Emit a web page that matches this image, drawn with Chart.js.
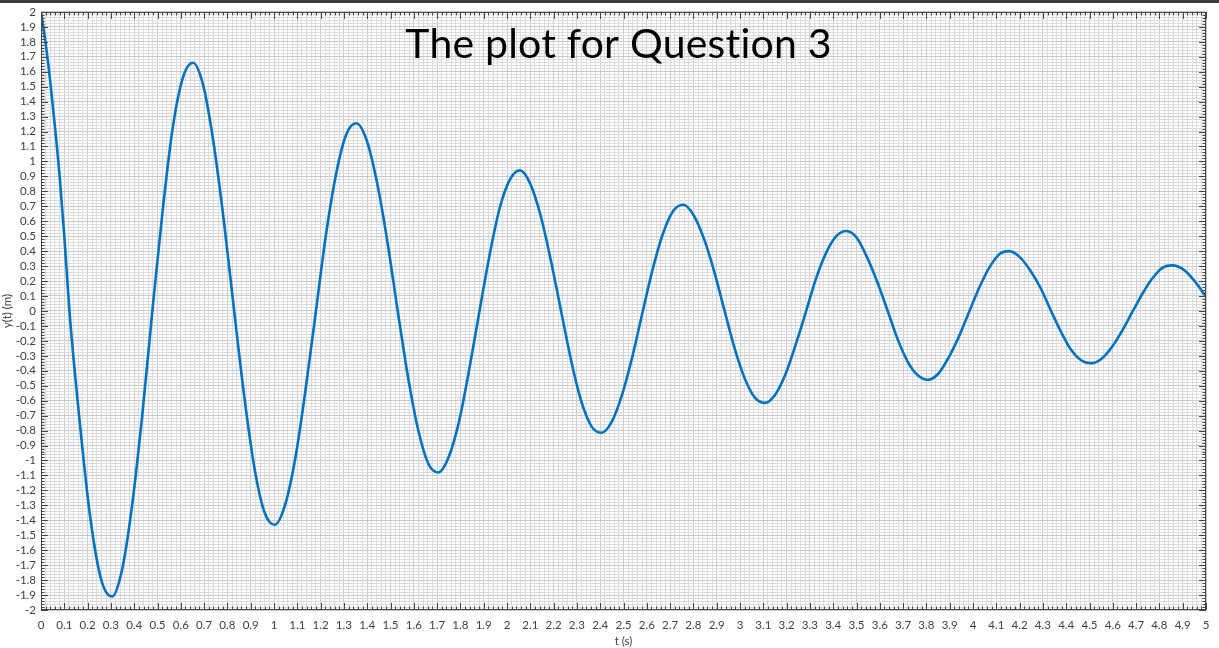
<!DOCTYPE html>
<html>
<head>
<meta charset="utf-8">
<script src="https://cdn.jsdelivr.net/npm/chart.js@4.4.1/dist/chart.umd.min.js"></script>
<style>
body{margin:0;background:#fff}
#plot{display:block}
</style>
</head>
<body>
<canvas id="plot" width="1219" height="648"></canvas>
<script>
// ---------------- DATA ----------------

const tVals = [0, 0.02, 0.04, 0.06, 0.08, 0.10, 0.122,
0.168, 0.213, 0.259, 0.305, 0.348, 0.391, 0.435, 0.478,
0.522, 0.565, 0.609, 0.652, 0.696, 0.740, 0.785, 0.829,
0.873, 0.916, 0.960, 1.003, 1.047, 1.092, 1.136, 1.180,
1.223, 1.267, 1.310, 1.353, 1.398, 1.442, 1.487, 1.531,
1.575, 1.618, 1.662, 1.705, 1.749, 1.794, 1.838, 1.882,
1.926, 1.969, 2.013, 2.056, 2.100, 2.144, 2.188, 2.232,
2.275, 2.318, 2.362, 2.405, 2.450, 2.494, 2.539, 2.583,
2.627, 2.670, 2.714, 2.757, 2.801, 2.846, 2.890, 2.934,
2.977, 3.020, 3.064, 3.107, 3.151, 3.196, 3.240, 3.284,
3.327, 3.370, 3.413, 3.456, 3.501, 3.545, 3.590, 3.634,
3.677, 3.720, 3.763, 3.806, 3.851, 3.896, 3.940, 3.985,
4.028, 4.070, 4.113, 4.156, 4.201, 4.246, 4.291, 4.335,
4.378, 4.421, 4.464, 4.507, 4.552, 4.597, 4.641, 4.686,
4.729, 4.771, 4.814, 4.856, 4.901, 4.946, 4.991, 5.0]

const yVals = [2.0, 1.79, 1.53, 1.23, 0.90, 0.50, 0,
-0.77, -1.40, -1.80, -1.91, -1.73, -1.30, -0.69, 0,
0.67, 1.22, 1.56, 1.66, 1.51, 1.13, 0.60, 0,
-0.58, -1.05, -1.35, -1.43, -1.30, -0.98, -0.52, 0,
0.51, 0.92, 1.18, 1.255, 1.14, 0.86, 0.46, 0,
-0.44, -0.79, -1.02, -1.08, -0.98, -0.74, -0.39, 0,
0.38, 0.69, 0.88, 0.94, 0.85, 0.64, 0.34, 0,
-0.33, -0.60, -0.77, -0.815, -0.74, -0.56, -0.30, 0,
0.29, 0.52, 0.67, 0.71, 0.64, 0.48, 0.26, 0,
-0.25, -0.45, -0.58, -0.615, -0.56, -0.42, -0.22, 0,
0.22, 0.39, 0.50, 0.535, 0.49, 0.36, 0.19, 0,
-0.19, -0.34, -0.43, -0.46, -0.42, -0.31, -0.17, 0,
0.16, 0.29, 0.38, 0.40, 0.36, 0.27, 0.15, 0,
-0.14, -0.26, -0.33, -0.35, -0.32, -0.24, -0.13, 0,
0.12, 0.22, 0.29, 0.305, 0.28, 0.21, 0.115, 0.093]

const titulo = "The plot for Question 3"
const xTitulo = "t (s)"
const yTitulo = "y(t) (m)"

// ---------------- HELPERS ----------------

const isMajor = v => Math.abs(v*10 - Math.round(v*10)) < 1e-6
const fmt = v => isMajor(v) ? String(Number(v.toFixed(1))) : ""

// ---------------- MOLDURA / TICKS / TITULO ----------------

const moldura = {
id:"moldura",
beforeDraw(chart){
const ctx = chart.ctx
ctx.save()
ctx.fillStyle = "#fff"
ctx.fillRect(0,0,chart.width,chart.height)
ctx.fillStyle = "#3c3c3c"
ctx.fillRect(0,0,chart.width,3)
ctx.restore()
},
afterDraw(chart){
const {ctx, chartArea:a, scales:{x,y}} = chart
ctx.save()
ctx.strokeStyle = "#444"
ctx.lineWidth = 1
ctx.beginPath()
x.ticks.forEach(t => {
const px = Math.round(x.getPixelForValue(t.value)) + 0.5
const len = isMajor(t.value) ? 7 : 3.5
ctx.moveTo(px, a.bottom); ctx.lineTo(px, a.bottom - len)
ctx.moveTo(px, a.top); ctx.lineTo(px, a.top + len)
})
y.ticks.forEach(t => {
const py = Math.round(y.getPixelForValue(t.value)) + 0.5
const len = isMajor(t.value) ? 7 : 3.5
ctx.moveTo(a.left, py); ctx.lineTo(a.left + len, py)
ctx.moveTo(a.right, py); ctx.lineTo(a.right - len, py)
})
ctx.stroke()
ctx.strokeRect(Math.round(a.left)+0.5, Math.round(a.top)+0.5,
Math.round(a.right-a.left)-1, Math.round(a.bottom-a.top)-1)

ctx.fillStyle = "#000"
ctx.font = "41px Lato"
ctx.letterSpacing = "0.2px"
ctx.textAlign = "center"
ctx.textBaseline = "alphabetic"
ctx.fillText(titulo, (a.left + a.right)/2 - 5, 58)
ctx.restore()
}
}

// ---------------- GRAFICO ----------------

new Chart(document.getElementById("plot"),{
type:"line",
data:{
datasets:[{
data:tVals.map((t,i)=>({x:t, y:yVals[i]})),
borderColor:"#0072BD",
borderWidth:2.6,
pointRadius:0,
cubicInterpolationMode:"monotone",
fill:false
}]
},
options:{
responsive:false,
animation:false,
devicePixelRatio:1,
layout:{padding:{top:8, right:13, left:0, bottom:0}},
plugins:{legend:{display:false}, tooltip:{enabled:false}},
scales:{
x:{
type:"linear", min:0, max:5,
border:{display:false},
grid:{
drawTicks:false,
color:c => isMajor(c.tick.value) ? "#cbcbcb" : "#dcdcdc",
lineWidth:1
},
ticks:{
stepSize:0.02, autoSkip:false, maxRotation:0, minRotation:0,
padding:8, color:"#404040",
font:{family:"Lato", size:11.5},
callback:v => fmt(v)
},
title:{display:true, text:xTitulo, color:"#404040", font:{family:"Lato", size:11.5}, padding:{top:0, bottom:0}},
afterFit:s => { s.height = 38 }
},
y:{
type:"linear", min:-2, max:2,
border:{display:false},
grid:{
drawTicks:false,
color:c => isMajor(c.tick.value) ? "#cbcbcb" : "#dcdcdc",
lineWidth:1
},
ticks:{
stepSize:0.02, autoSkip:false,
padding:5, color:"#404040",
font:{family:"Lato", size:11.5},
callback:v => fmt(v)
},
title:{display:true, text:yTitulo, color:"#404040", font:{family:"Lato", size:11.5}, padding:{top:0, bottom:0}},
afterFit:s => { s.width = 41 }
}
}
},
plugins:[moldura]
})
</script>
</body>
</html>
